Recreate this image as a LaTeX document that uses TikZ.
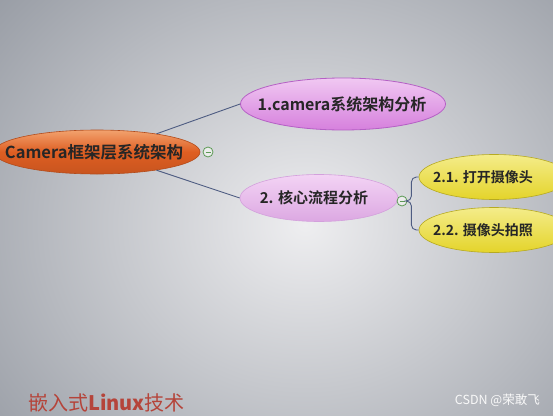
\documentclass[tikz,border=0pt]{standalone}
\usepackage{fontspec}
\setmainfont{Noto Sans CJK SC}
\newfontfamily\cjkb{Noto Sans CJK SC Bold}
\usetikzlibrary{shapes.geometric}
\definecolor{rootc}{HTML}{DE5E22}
\definecolor{rootl}{HTML}{F2A26E}
\definecolor{violc}{HTML}{D680DD}
\definecolor{violl}{HTML}{F0C8F2}
\definecolor{violb}{HTML}{B560C5}
\definecolor{viol2}{HTML}{DCA8E2}
\definecolor{yelc}{HTML}{E4D42A}
\definecolor{yell}{HTML}{F4EC8A}
\definecolor{connc}{HTML}{4E5C82}
\definecolor{minc}{HTML}{5C9A55}
\definecolor{redt}{HTML}{B5443A}
\definecolor{bgin}{HTML}{EEEEF0}
\definecolor{bgout}{HTML}{8E939C}
\tikzset{
  topic/.style={shape=ellipse, inner sep=0pt},
  lbl/.style={inner sep=0pt, text=black!85},
  rootnode/.style={topic, draw=rootc!80!black, line width=0.6pt, top color=rootl, bottom color=rootc!90!black, middle color=rootc},
  vnode/.style={topic, draw=violb, line width=0.8pt, top color=violl, bottom color=violc},
  v2node/.style={topic, draw=violb!60, line width=0.6pt, top color=violl!80!white, bottom color=viol2},
  ynode/.style={topic, draw=yelc!80!black, line width=0.6pt, top color=yell, bottom color=yelc},
  conn/.style={draw=connc, line width=0.9pt},
  minus/.style={circle, draw=minc, line width=0.8pt, fill=white!85!gray, minimum size=10pt, inner sep=0pt,
    path picture={\draw[minc, line width=0.8pt] ([xshift=-2.5pt]path picture bounding box.center) -- ([xshift=2.5pt]path picture bounding box.center);}},
}
\begin{document}
\begin{tikzpicture}[x=1pt,y=-1pt]
\clip (0,0) rectangle (553,415);
\shade[inner color=bgin, outer color=bgout] (-150,-170) rectangle (760,620);
% nodes
\node[rootnode, minimum width=206pt, minimum height=44pt] (root) at (97,152) {};
\node[lbl, font=\cjkb\fontsize{16.5}{18}\selectfont] (rootl) at (94,152) {Camera框架层系统架构};
\node[minus] (m0) at (208,152) {};
\node[vnode, minimum width=205pt, minimum height=52pt] (n1) at (343,104) {};
\node[lbl, font=\cjkb\fontsize{16}{18}\selectfont] (n1l) at (342,104) {1.camera系统架构分析};
\node[v2node, minimum width=158pt, minimum height=47pt] (n2) at (319,198) {};
\node[lbl, font=\cjkb\fontsize{15}{17}\selectfont] (n2l) at (314,198) {2. 核心流程分析};
\node[minus] (m2) at (402,201) {};
\node[ynode, minimum width=150pt, minimum height=45pt] (n21) at (494,177) {};
\node[lbl, font=\cjkb\fontsize{14}{16}\selectfont] (n21l) at (483,177) {2.1. 打开摄像头};
\node[ynode, minimum width=150pt, minimum height=45pt] (n22) at (494,230) {};
\node[lbl, font=\cjkb\fontsize{14}{16}\selectfont] (n22l) at (483,230) {2.2. 摄像头拍照};
% connectors
\draw[conn] (root.17) -- (n1.west);
\draw[conn] (root.-17) -- (n2.west);
\draw[conn, rounded corners=5pt] (m2.east) -- ([xshift=4pt]m2.east) |- (n21.west);
\draw[conn, rounded corners=5pt] (m2.east) -- ([xshift=4pt]m2.east) |- (n22.west);
% bottom texts
\node[anchor=base west, text=redt, font=\fontsize{20}{22}\selectfont, inner sep=0pt] (bt) at (28,410) {嵌入式\textbf{Linux}技术};
\node[anchor=base east, text=white!95!gray, font=\fontsize{12.5}{14}\selectfont, inner sep=0pt] (wm) at (540,404) {CSDN @荣敢飞};
\end{tikzpicture}
\end{document}
